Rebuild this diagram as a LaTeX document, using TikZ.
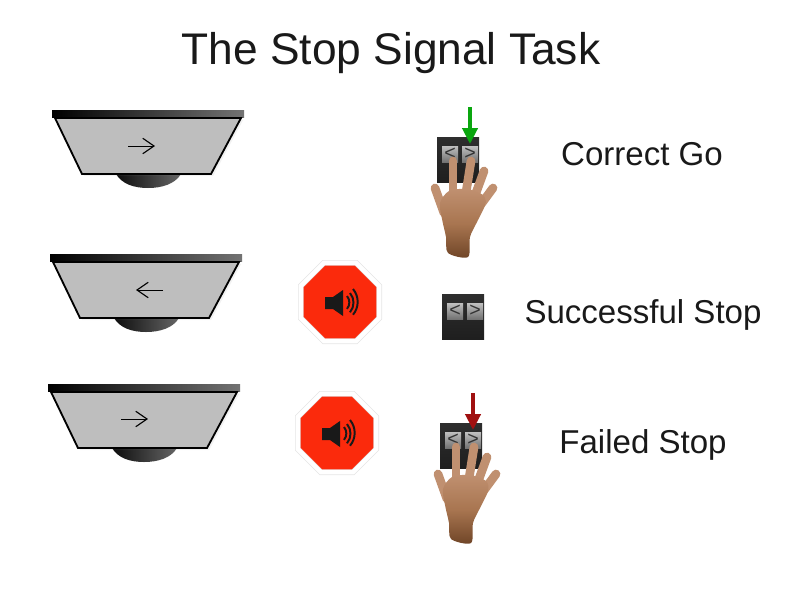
\documentclass[tikz,border=0pt]{standalone}
\usepackage{fontspec}
\setmainfont{Liberation Sans}
\usetikzlibrary{shapes.geometric, arrows.meta, shadows, calc}

\definecolor{stopred}{HTML}{FB2A0C}
\definecolor{gogreen}{HTML}{0AA60F}
\definecolor{failred}{HTML}{A01010}
\definecolor{panelgray}{HTML}{BEBEBE}
\definecolor{padgray}{HTML}{2E2E2E}
\definecolor{skinlight}{HTML}{C09070}
\definecolor{skinmid}{HTML}{A87550}
\definecolor{skindark}{HTML}{6E4426}

\begin{document}
\begin{tikzpicture}[%
    x=0.025cm, y=-0.025cm,      % reference pixels, y going down
    ]

\tikzset{
  heading/.style={font=\fontsize{31.5}{36}\selectfont, text=black!90},
  outcome/.style={font=\fontsize{23.5}{28}\selectfont, text=black!90},
  cue/.style={line width=0.7pt, -{Straight Barb[length=8pt, width=11pt, line width=0.8pt]}},
  press/.style={line width=2.8pt, shorten >=1.2pt, -{Triangle[length=11.4pt, width=10.7pt]}},
  tone/.style={regular polygon, regular polygon sides=8, minimum size=2.12cm, inner sep=0pt,
               fill=stopred, draw=black!10, double=white, double distance=3pt, line width=0.5pt},
  keycap/.style={minimum size=0.4cm, inner sep=0pt, font=\fontsize{14}{14}\selectfont,
               text=black!80, top color=black!25, bottom color=black!55},
  digit/.style={line cap=round, color=skinlight, line width=6.2pt},
  pics/monitor/.style={code={
    \shade[left color=black, right color=black!55] (0,0) rectangle (192,7);
    \shade[left color=black!95, right color=black!60]
      (64,64) .. controls (70,74) and (82,78) .. (96,78) .. controls (110,78) and (123,74) .. (129,64) -- cycle;
    \draw[fill=panelgray, line width=1.3pt, join=miter,
          drop shadow={shadow xshift=1.5pt, shadow yshift=-1.5pt, opacity=0.1}]
      (3,8) -- (189,8) -- (159,64) -- (30,64) -- cycle;
  }},
  pics/keypad/.style={code={
    \shade[top color=padgray, bottom color=black!88] (0,0) rectangle (42,45);
    \node[keycap] (-lkey) at (13,17) {<};
    \node[keycap] (-rkey) at (33,17) {>};
  }},
  pics/hand/.style={code={
    \draw[digit] (7,76) -- (-2,51);
    \draw[digit] (16,66) -- (16,24);
    \draw[digit] (28,62) -- (34,24);
    \draw[digit] (36,64) -- (47,34);
    \draw[digit] (42,70) -- (56,51);
    \shade[top color=skinlight, bottom color=skindark, middle color=skinmid]
      plot[smooth cycle, tension=0.5] coordinates {
        (11,116) (9,100) (5,82) (3,66) (12,54) (30,52) (46,58) (48,68) (40,85) (33,100) (31,120)
      };
  }},
  pics/speaker/.style={code={
    \fill[black!90] (-15,-5) -- (-7,-5) -- (3,-12) -- (3,14) -- (-7,7) -- (-15,7) -- cycle;
    \draw[black!90, line width=1.4pt] (7,-6) arc[start angle=-40, end angle=40, radius=10];
    \draw[black!90, line width=1.4pt] (10,-9) arc[start angle=-40, end angle=40, radius=15];
    \draw[black!90, line width=1.4pt] (13,-13) arc[start angle=-40, end angle=40, radius=20];
  }},
};

\useasboundingbox (0,0) rectangle (800,600);

\node[heading] (title) at (391,53) {The Stop Signal Task};

% Correct go
\pic (monitorGo) at (52,110) {monitor};
\coordinate (cueGoTail) at (128,146);
\coordinate (cueGoHead) at (155,146);
\draw[cue] (cueGoTail) -- (cueGoHead);

\pic (padGo) at (437,137) {keypad};
\pic (handGo) at (437,137) {hand};
\coordinate (pressGoTail) at (470,107);
\draw[press, gogreen] (pressGoTail) -- (padGo-rkey.north);
\node[outcome] (labelGo) at (642,154) {Correct Go};

% Successful stop
\pic (monitorStop) at (50,254) {monitor};
\coordinate (cueStopTail) at (163,290);
\coordinate (cueStopHead) at (136,290);
\draw[cue] (cueStopTail) -- (cueStopHead);

\node[tone] (toneStop) at (340,302) {};
\pic (speakerStop) at (toneStop) {speaker};

\pic (padStop) at (442,294) {keypad};
\node[outcome] (labelStop) at (643,315) {Successful Stop};

% Failed stop
\pic (monitorFail) at (48,384) {monitor};
\coordinate (cueFailTail) at (121,419);
\coordinate (cueFailHead) at (148,419);
\draw[cue] (cueFailTail) -- (cueFailHead);

\node[tone] (toneFail) at (337,433) {};
\pic (speakerFail) at (toneFail) {speaker};

\pic (padFail) at (440,423) {keypad};
\pic (handFail) at (440,423) {hand};
\coordinate (pressFailTail) at (473,393);
\draw[press, failred] (pressFailTail) -- (padFail-rkey.north);
\node[outcome] (labelFail) at (643,445) {Failed Stop};

\end{tikzpicture}
\end{document}
